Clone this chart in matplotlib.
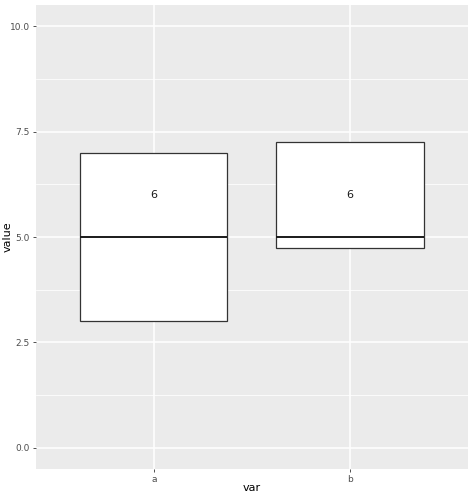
import matplotlib.pyplot as plt
from matplotlib.ticker import MultipleLocator

cats = ["a", "b"]
q1 = [3.0, 4.75]
med = [5.0, 5.0]
q3 = [7.0, 7.25]
means = [6, 6]

fig = plt.figure(figsize=(4.74, 4.99), dpi=100)
ax = fig.add_axes([0.076, 0.060, 0.911, 0.930])
ax.set_facecolor("#EBEBEB")

x = list(range(1, len(cats) + 1))
# grid
ax.yaxis.set_major_locator(MultipleLocator(2.5))
ax.yaxis.set_minor_locator(MultipleLocator(1.25))
ax.grid(which="major", color="white", lw=1.1)
ax.grid(which="minor", axis="y", color="white", lw=0.55)
ax.set_axisbelow(True)

heights = [b - a for a, b in zip(q1, q3)]
ax.bar(x, heights, bottom=q1, width=0.75, color="white", edgecolor="#333333", lw=0.9, zorder=3)
ax.hlines(med, [i - 0.375 for i in x], [i + 0.375 for i in x], color="#1a1a1a", lw=1.4, zorder=4)
for i, m in zip(x, means):
    ax.text(i, m, str(m), ha="center", va="center", fontsize=8, color="#1a1a1a", zorder=5)

ax.set_xlim(0.4, 2.6)
ax.set_ylim(-0.5, 10.5)
ax.set_xticks(x)
ax.set_xticklabels(cats)
ax.set_yticks([0, 2.5, 5, 7.5, 10])
ax.set_yticklabels(["0.0", "2.5", "5.0", "7.5", "10.0"])
ax.tick_params(which="major", length=2.5, width=0.6, color="#333333", labelcolor="#4D4D4D", labelsize=6.5, pad=2)
ax.tick_params(which="minor", length=0)
for s in ax.spines.values():
    s.set_visible(False)
ax.set_xlabel("var", fontsize=8, color="black", va="center")
ax.set_ylabel("value", fontsize=8, color="black", va="center")
ax.xaxis.set_label_coords(0.5, -0.041)
ax.yaxis.set_label_coords(-0.065, 0.5)

fig.savefig("out.png", dpi=100)
